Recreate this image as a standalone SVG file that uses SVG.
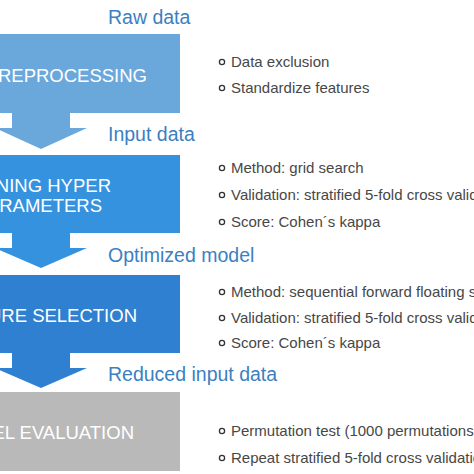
<svg xmlns="http://www.w3.org/2000/svg" width="474" height="474" viewBox="0 0 474 474">
<style>
.box-t{font-family:"Liberation Sans",Arial,sans-serif;font-size:18.5px;fill:#ffffff;text-anchor:end}
.lbl{font-family:"Liberation Sans",Arial,sans-serif;font-size:19.5px;fill:#3b80c2}
.bt{font-family:"Liberation Sans",Arial,sans-serif;font-size:15px;fill:#474747}
.bul{fill:none;stroke:#333;stroke-width:1.3}
</style>
<rect width="474" height="474" fill="#ffffff"/>
<g id="connectors">
<polygon points="12,112 70,112 70,128 87,128 41,149 -5,128 12,128" fill="#6aa8dc"/>
<polygon points="12,232 70,232 70,248 87,248 41,268 -5,248 12,248" fill="#3592df"/>
<polygon points="12,352 70,352 70,368 87,368 41,388 -5,368 12,368" fill="#2f80d0"/>
<text class="lbl" x="108" y="24">Raw data</text>
<text class="lbl" x="108" y="141">Input data</text>
<text class="lbl" x="108" y="262">Optimized model</text>
<text class="lbl" x="108" y="381">Reduced input data</text>
</g>
<g id="preprocessing">
<rect x="-10" y="34" width="190" height="79" fill="#6aa8dc"/>
<text class="box-t" x="147" y="82">PREPROCESSING</text>
<circle class="bul" cx="222" cy="62" r="2.6"/>
<text class="bt" x="231" y="67">Data exclusion</text>
<circle class="bul" cx="222" cy="88" r="2.6"/>
<text class="bt" x="231" y="93">Standardize features</text>
</g>
<g id="tuning">
<rect x="-10" y="155" width="190" height="78" fill="#3592df"/>
<text class="box-t" x="111" y="192">TUNING HYPER</text>
<text class="box-t" x="102" y="212">PARAMETERS</text>
<circle class="bul" cx="222" cy="168" r="2.6"/>
<text class="bt" x="231" y="173">Method: grid search</text>
<circle class="bul" cx="222" cy="195" r="2.6"/>
<text class="bt" x="231" y="200">Validation: stratified 5-fold cross validation</text>
<circle class="bul" cx="222" cy="222" r="2.6"/>
<text class="bt" x="231" y="227">Score: Cohen´s kappa</text>
</g>
<g id="feature-selection">
<rect x="-10" y="275" width="190" height="78" fill="#2f80d0"/>
<text class="box-t" x="137" y="322">FEATURE SELECTION</text>
<circle class="bul" cx="222" cy="292" r="2.6"/>
<text class="bt" x="231" y="297">Method: sequential forward floating selection</text>
<circle class="bul" cx="222" cy="318" r="2.6"/>
<text class="bt" x="231" y="323">Validation: stratified 5-fold cross validation</text>
<circle class="bul" cx="222" cy="343" r="2.6"/>
<text class="bt" x="231" y="348">Score: Cohen´s kappa</text>
</g>
<g id="model-evaluation">
<rect x="-10" y="392" width="190" height="79" fill="#b9b9b9"/>
<text class="box-t" x="134" y="439">MODEL EVALUATION</text>
<circle class="bul" cx="222" cy="431" r="2.6"/>
<text class="bt" x="231" y="436">Permutation test (1000 permutations)</text>
<circle class="bul" cx="222" cy="458" r="2.6"/>
<text class="bt" x="231" y="463">Repeat stratified 5-fold cross validation</text>
</g>
</svg>
